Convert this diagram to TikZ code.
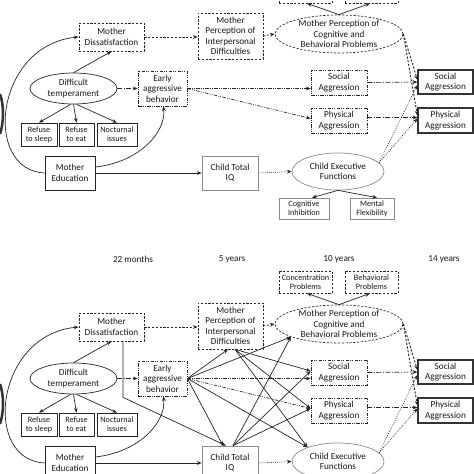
\documentclass[tikz,border=0pt]{standalone}
\usepackage{fontspec}
\setmainfont{Carlito}
\usetikzlibrary{arrows.meta,shapes.geometric,calc}
\tikzset{
 lbl/.style={font=\fontsize{9.2}{10.5}\selectfont, align=center, text=black!90},
 sml/.style={font=\fontsize{8.2}{9.3}\selectfont, align=center, text=black!90},
 bx/.style={rectangle, draw=black!85, line width=0.7pt, inner sep=0pt},
 el/.style={ellipse, draw=black!85, line width=0.7pt, inner sep=0pt},
 grey/.style={draw=black!45},
 thk/.style={line width=1.2pt, draw=black!80},
 dsh/.style={dash pattern=on 2.2pt off 1.6pt},
 ddot/.style={dash pattern=on 3.5pt off 1.3pt on 0.8pt off 1.3pt on 0.8pt off 1.3pt},
 ddash/.style={dash pattern=on 5pt off 1.5pt on 1pt off 1.5pt},
 dtt/.style={dash pattern=on 0.8pt off 1.3pt},
 arr/.style={-{Stealth[length=4.8pt,width=3.8pt]}, line width=0.7pt, draw=black!85},
 hd/.style={font=\fontsize{9.2}{10.5}\selectfont, text=black!90}
}
\newcommand\mypanel[2]{%
\begin{scope}[shift={(0,#1)}]
\node[bx,dsh,minimum width=53pt,minimum height=22pt,sml] (#2conc) at (305.5,-8) {Concentration\\Problems};
\node[bx,dsh,minimum width=53pt,minimum height=22pt,sml] (#2behav) at (371.5,-8) {Behavioral\\Problems};
\node[el,dsh,minimum width=128pt,minimum height=38pt,label={[lbl]center:Mother Perception of\\Cognitive and\\Behavioral Problems}] (#2cog) at (339,34) {};
\node[bx,dsh,minimum width=65pt,minimum height=28pt,lbl] (#2diss) at (111.5,37) {Mother\\Dissatisfaction};
\node[bx,dsh,minimum width=65pt,minimum height=46pt,lbl] (#2inter) at (230.5,36) {Mother\\Perception of\\Interpersonal\\Difficulties};
\node[el,minimum width=87pt,minimum height=31pt,label={[lbl]center:Difficult\\temperament}] (#2temp) at (73.5,88.5) {};
\node[bx,ddot,minimum width=49pt,minimum height=35pt,lbl] (#2early) at (162.5,88.5) {Early\\aggressive\\behavior};
\node[bx,ddot,minimum width=56pt,minimum height=25pt,lbl] (#2soc) at (339,82.5) {Social\\Aggression};
\node[bx,ddot,minimum width=56pt,minimum height=25pt,lbl] (#2phy) at (339,120.5) {Physical\\Aggression};
\node[bx,thk,minimum width=55pt,minimum height=24pt,lbl] (#2socb) at (445.5,82) {Social\\Aggression};
\node[bx,thk,minimum width=55pt,minimum height=25pt,lbl] (#2phyb) at (445.5,120.5) {Physical\\Aggression};
\node[bx,minimum width=36pt,minimum height=23pt,sml] (#2sleep) at (39,134.5) {Refuse\\to sleep};
\node[bx,minimum width=35pt,minimum height=23pt,sml] (#2eat) at (76.5,134.5) {Refuse\\to eat};
\node[bx,minimum width=40pt,minimum height=23pt,sml] (#2noct) at (117,134.5) {Nocturnal\\issues};
\node[bx,minimum width=50pt,minimum height=34pt,lbl] (#2edu) at (70,173) {Mother\\Education};
\node[bx,grey,minimum width=56pt,minimum height=34pt,lbl] (#2iq) at (230,173) {Child Total\\IQ};
\node[el,grey,minimum width=92pt,minimum height=37pt,label={[lbl]center:Child Executive\\Functions}] (#2cef) at (338,171.5) {};
\node[bx,grey,minimum width=50pt,minimum height=21pt,sml] (#2cinh) at (304,208.5) {Cognitive\\Inhibition};
\node[bx,grey,minimum width=44pt,minimum height=21pt,sml] (#2mflex) at (372,208.5) {Mental\\Flexibility};
% connectors
\draw[arr,dsh] (#2diss.east) -- (#2inter.west |- #2diss.east);
\draw[arr,dsh] (#2inter.east) -- (#2cog.west);
\draw[arr] (#2temp.north) -- (#2diss.south);
\draw[arr,ddash] (#2temp.east) -- (#2early.west);
\draw[arr,ddot] (#2early.east) -- (#2early.east -| #2soc.west);
\draw[arr,ddot] (#2early.east) -- ([yshift=2pt]#2phy.west);
\draw[arr,ddash] (#2soc.east) -- (#2socb.west);
\draw[arr,ddash] ([yshift=3pt]#2phy.east) -- ([yshift=3pt]#2phyb.west);
\draw[arr,dsh,line width=0.9pt] (#2cog.east) -- ([yshift=2pt]#2socb.west);
\draw[arr,dsh,line width=0.9pt] (#2cog.east) -- ([yshift=5pt]#2phyb.west);
\draw[arr,dtt] (#2cef.12) -- ([yshift=-3pt]#2socb.west);
\draw[arr,dtt] (#2cef.12) -- ([yshift=2pt]#2phyb.west);
\draw[arr] (#2cog.north) -- ([xshift=1.5pt]#2conc.south);
\draw[arr] (#2cog.north) -- ([xshift=-1.5pt]#2behav.south);
\draw[arr] (#2cef.south) -- ([xshift=8pt]#2cinh.north);
\draw[arr] (#2cef.south) -- ([xshift=5pt]#2mflex.north);
\draw[arr] ([xshift=-3pt]#2temp.south) -- (#2sleep.north);
\draw[arr] (#2temp.south) -- (#2eat.north);
\draw[arr] ([xshift=3pt]#2temp.south) -- (#2noct.north);
\draw[arr] (#2edu.east) -- (#2iq.west);
\draw[arr,dtt] (#2iq.east) -- (#2cef.west);
\draw[arr] (#2edu.west) .. controls (-18,170) and (-5,45) .. (#2diss.west);
\draw[arr] ([yshift=6pt]#2edu.east) .. controls (140,162) and (166,132) .. ([xshift=1pt]#2early.south);
\draw[line width=2.5pt,draw=black!80] (0,94) .. controls (4,105) and (4,122) .. (0,134);
\end{scope}}
\begin{document}
\begin{tikzpicture}[x=1pt,y=-1pt]
\useasboundingbox (0,0) rectangle (474,474);
\clip (0,0) rectangle (474,474);
\fill[white] (0,0) rectangle (474,474);
\mypanel{0}{t}
\mypanel{290}{b}
\node[hd] (h1) at (133,259) {22 months};
\node[hd] (h2) at (232,259) {5 years};
\node[hd] (h3) at (339,259) {10 years};
\node[hd] (h4) at (444,259) {14 years};
\begin{scope}[shift={(0,290)}]
\draw[arr] ([xshift=11.5pt]bdiss.south) -- ++(0,56) -- ([xshift=-4pt]biq.north);
\draw[arr] (bearly.east) -- ([xshift=-7pt]biq.north);
\draw[arr] (bearly.east) -- ([xshift=-2.5pt]binter.south);
\draw[arr] (bearly.east) -- (bcog.195);
\draw[arr] (bearly.east) -- (bcef.155);
\draw[arr] ([xshift=4.5pt]binter.south) -- ([yshift=1.5pt]bsoc.west);
\draw[arr] ([xshift=4.5pt]binter.south) -- ([yshift=2pt]bphy.west);
\draw[arr] ([xshift=4.5pt]binter.south) -- (bcef.155);
\draw[arr] ([xshift=3pt]biq.north) -- (bcog.195);
\draw[arr] ([xshift=3pt]biq.north) -- ([yshift=1.5pt]bsoc.west);
\draw[arr] ([xshift=3pt]biq.north) -- ([yshift=2pt]bphy.west);
\end{scope}
\end{tikzpicture}
\end{document}
